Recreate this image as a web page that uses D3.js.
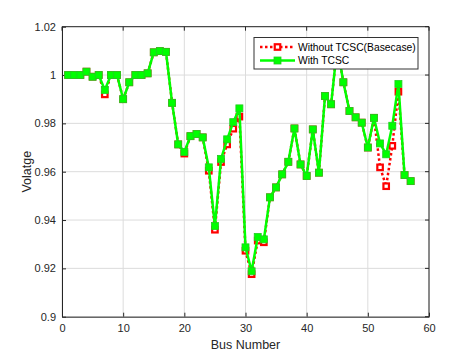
<!DOCTYPE html>
<html><head><meta charset="utf-8">
<script src="https://cdn.jsdelivr.net/npm/d3@7"></script>
<style>body{margin:0;background:#fff}svg{display:block}text{font-family:"Liberation Sans",Arial,sans-serif}</style>
</head><body><svg id="c" width="474" height="356"></svg>
<script>
const buses = d3.range(1, 58);
const withoutTCSC = [1.000,1.000,1.000,1.0014,0.9993,1.000,0.992,1.000,1.000,0.990,0.997,1.000,1.000,1.0007,1.0094,1.0099,1.0096,0.9885,0.9713,0.9675,0.9747,0.9756,0.9742,0.9604,0.9360,0.9640,0.9713,0.9778,0.9828,0.9273,0.9176,0.9315,0.9308,0.9494,0.9535,0.9589,0.9641,0.9779,0.9630,0.9582,0.9775,0.9596,0.9913,0.9879,1.0120,0.9970,0.9851,0.9825,0.9803,0.9700,0.9823,0.9618,0.9540,0.9707,0.9931,0.9586,0.9561];
const withTCSC = [1.000,1.000,1.000,1.0014,0.9993,1.000,0.9938,1.000,1.000,0.990,0.997,1.000,1.000,1.0007,1.0094,1.0099,1.0096,0.9885,0.9713,0.9682,0.9747,0.9756,0.9742,0.9618,0.9375,0.9653,0.9734,0.9805,0.9862,0.9287,0.9188,0.9330,0.9320,0.9494,0.9535,0.9589,0.9641,0.9779,0.9630,0.9582,0.9775,0.9596,0.9913,0.9879,1.0120,0.9970,0.9851,0.9825,0.9803,0.9700,0.9823,0.9717,0.9672,0.9790,0.9963,0.9586,0.9561];
const xTicks = [0,10,20,30,40,50,60];
const yTicks = [0.9,0.92,0.94,0.96,0.98,1,1.02];
const seriesNames = ["Without TCSC(Basecase)", "With TCSC"];

const svg = d3.select("#c");
const L = 62, R = 429, T = 26.7, B = 316.7;
const x = d3.scaleLinear().domain([0,60]).range([L,R]);
const y = d3.scaleLinear().domain([0.9,1.02]).range([B,T]);
const axisCol = "#262626", gridCol = "#dcdcdc";

// grid
svg.append("g").selectAll("line").data(xTicks).join("line")
  .attr("x1",d=>x(d)).attr("x2",d=>x(d)).attr("y1",T).attr("y2",B)
  .attr("stroke",gridCol).attr("stroke-width",1);
svg.append("g").selectAll("line").data(yTicks).join("line")
  .attr("x1",L).attr("x2",R).attr("y1",d=>y(d)).attr("y2",d=>y(d))
  .attr("stroke",gridCol).attr("stroke-width",1);

// axes
const fmt = d => d3.format("")(+d.toFixed(2));
const gx = svg.append("g").attr("transform",`translate(0,${B})`)
  .call(d3.axisBottom(x).tickValues(xTicks).tickSizeInner(-4).tickSizeOuter(0).tickPadding(8));
const gy = svg.append("g").attr("transform",`translate(${L},0)`)
  .call(d3.axisLeft(y).tickValues(yTicks).tickFormat(fmt).tickSizeInner(-4).tickSizeOuter(0).tickPadding(6));
[gx,gy].forEach(g=>{
  g.select(".domain").attr("stroke",axisCol).attr("stroke-width",1);
  g.selectAll(".tick line").attr("stroke",axisCol);
  g.selectAll(".tick text").attr("fill","#262626").style("font-size","11px").style("font-family","Liberation Sans, Arial, sans-serif");
});
// box top/right
svg.append("line").attr("x1",L).attr("x2",R).attr("y1",T).attr("y2",T).attr("stroke",axisCol);
svg.append("line").attr("x1",R).attr("x2",R).attr("y1",T).attr("y2",B).attr("stroke",axisCol);
// right/top ticks
svg.append("g").selectAll("line").data(xTicks).join("line")
  .attr("x1",d=>x(d)).attr("x2",d=>x(d)).attr("y1",T).attr("y2",T+4).attr("stroke",axisCol);
svg.append("g").selectAll("line").data(yTicks).join("line")
  .attr("x1",R).attr("x2",R-4).attr("y1",d=>y(d)).attr("y2",d=>y(d)).attr("stroke",axisCol);

// labels
svg.append("text").attr("x",(L+R)/2).attr("y",349).attr("text-anchor","middle")
  .attr("fill","#262626").style("font-size","12.5px").text("Bus Number");
svg.append("text").attr("transform",`translate(31,${(T+B)/2}) rotate(-90)`).attr("text-anchor","middle")
  .attr("fill","#262626").style("font-size","12.5px").text("Volatge");

const red = "#ff0000", green = "#00ff00";
const line = d3.line().x((d,i)=>x(buses[i])).y(d=>y(d));
const ms = 7;

// red series
svg.append("path").datum(withoutTCSC).attr("d",line).attr("fill","none")
  .attr("stroke",red).attr("stroke-width",2.5).attr("stroke-dasharray","2.5,2.5");
svg.append("g").selectAll("rect").data(withoutTCSC).join("rect")
  .attr("x",(d,i)=>x(buses[i])-ms/2+0.75).attr("y",d=>y(d)-ms/2+0.75)
  .attr("width",ms-1.5).attr("height",ms-1.5).attr("fill","#fff").attr("stroke",red).attr("stroke-width",2.2);

// green series
svg.append("path").datum(withTCSC).attr("d",line).attr("fill","none")
  .attr("stroke",green).attr("stroke-width",2.5);
svg.append("g").selectAll("rect").data(withTCSC).join("rect")
  .attr("x",(d,i)=>x(buses[i])-ms/2).attr("y",d=>y(d)-ms/2)
  .attr("width",ms).attr("height",ms).attr("fill",green).attr("stroke","#22cc22").attr("stroke-width",0.8);

// legend
const lg = svg.append("g");
lg.append("rect").attr("x",254).attr("y",37.5).attr("width",164).attr("height",31.5)
  .attr("fill","#fff").attr("stroke","#333").attr("stroke-width",1);
lg.append("line").attr("x1",260).attr("x2",295).attr("y1",47).attr("y2",47)
  .attr("stroke",red).attr("stroke-width",2.5).attr("stroke-dasharray","2.5,2.5");
lg.append("rect").attr("x",277.5-ms/2+0.75).attr("y",47-ms/2+0.75).attr("width",ms-1.5).attr("height",ms-1.5)
  .attr("fill","#fff").attr("stroke",red).attr("stroke-width",2.2);
lg.append("line").attr("x1",260).attr("x2",295).attr("y1",60.5).attr("y2",60.5)
  .attr("stroke",green).attr("stroke-width",2.5);
lg.append("rect").attr("x",277.5-ms/2).attr("y",60.5-ms/2).attr("width",ms).attr("height",ms)
  .attr("fill",green).attr("stroke","#22cc22").attr("stroke-width",0.8);
lg.selectAll("text.l").data(seriesNames).join("text").attr("class","l")
  .attr("x",298).attr("y",(d,i)=>47+i*13.5).attr("dy","0.35em")
  .attr("fill","#000").style("font-size","10.3px").text(d=>d);
</script></body></html>
